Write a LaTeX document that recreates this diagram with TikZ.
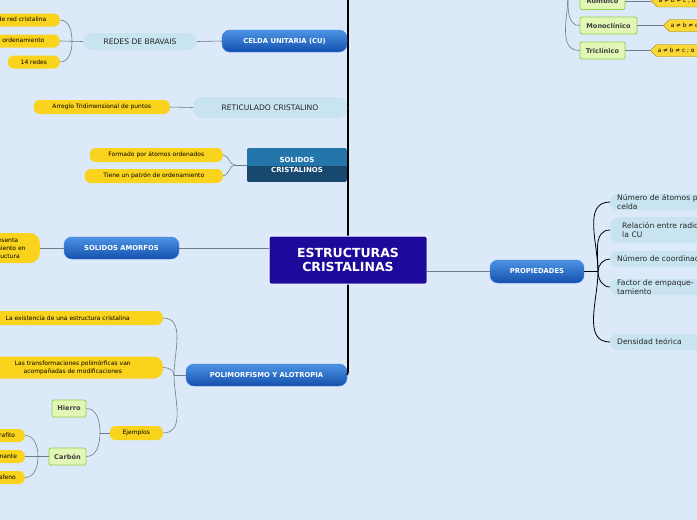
\documentclass[tikz,border=0pt]{standalone}
\usepackage{fontspec}
\setmainfont{DejaVu Sans}
\usetikzlibrary{shapes.geometric,shapes.symbols}
\definecolor{bg}{HTML}{DBE9F8}
\definecolor{yel}{HTML}{F9D31C}
\definecolor{lblue}{HTML}{C7E4F0}
\definecolor{grn}{HTML}{E2F6B5}
\definecolor{grnd}{HTML}{94D050}
\definecolor{btop}{HTML}{4D94E4}
\definecolor{bbot}{HTML}{1350AE}
\definecolor{cen}{HTML}{1E0A9A}
\definecolor{lnk}{HTML}{707C88}
\definecolor{sct}{HTML}{2476AA}
\definecolor{scb}{HTML}{19486E}
\tikzset{
 bluebtn/.style={rounded corners=8pt,top color=btop,bottom color=bbot,draw=btop!80!blue,text=white,font=\fontsize{6.8}{8}\selectfont\bfseries,inner sep=0pt},
 yelbox/.style={rounded corners=6pt,fill=yel,draw=none,font=\fontsize{6}{7.5}\selectfont,inner sep=0pt,minimum height=14pt,align=center},
 lbbox/.style={rounded corners=9pt,fill=lblue,draw=none,font=\fontsize{7.6}{9}\selectfont,inner sep=0pt,text=black!85},
 rbox/.style={lbbox,anchor=west,rounded corners=7pt,minimum height=16pt,text width=100pt,align=left,inner xsep=7pt},
 grnbox/.style={rounded corners=2pt,fill=grn,draw=grnd,line width=0.8pt,font=\fontsize{6.6}{8}\selectfont\bfseries,text=black!75,inner sep=0pt},
 hexbox/.style={shape=signal,signal to=west,fill=yel!90!white,draw=yel!60!black,font=\fontsize{5.8}{7}\selectfont,inner sep=1.5pt,minimum height=12pt,minimum width=70pt},
 lk/.style={draw=lnk,line width=0.6pt},
 bk/.style={draw=black,line width=1.6pt},
}
\begin{document}
\begin{tikzpicture}[x=1pt,y=-1pt]
\useasboundingbox (0,0) rectangle (697,520);
\fill[bg] (0,0) rectangle (697,520);
\clip (0,0) rectangle (697,520);
% main trunk
\coordinate (ttop) at (348,-5);
\coordinate (tbot) at (348,372);
\draw[bk] (ttop) -- (tbot);
% central
\node[fill=cen,draw=white,line width=1pt,rounded corners=1.5pt,minimum width=158pt,minimum height=48pt,text=white,font=\fontsize{12.5}{14}\selectfont\bfseries,align=center] (c) at (348,260) {ESTRUCTURAS\\CRISTALINAS};
% left branches
\node[bluebtn,minimum width=125pt,minimum height=22pt] (cu) at (284.5,41) {CELDA UNITARIA (CU)};
\node[lbbox,minimum width=114pt,minimum height=17pt] (rb) at (140,41.5) {REDES DE BRAVAIS};
\node[yelbox,minimum width=90pt,minimum height=13pt,anchor=east] (y1) at (60,20) {Tipo de red cristalina};
\node[yelbox,minimum width=100pt,minimum height=13pt,anchor=east] (y2) at (60,41) {Tipos de ordenamiento};
\node[yelbox,minimum width=52pt,minimum height=13pt,anchor=east] (y3) at (60,62) {14 redes};
\draw[lk] (cu.west) -- (rb.east);
\draw[lk] (rb.west) -- (y2.east);
\coordinate (rbj) at (72,41.5);
\draw[lk] (rbj) to[out=90,in=0] (y1.east);
\draw[lk] (rbj) to[out=-90,in=0] (y3.east);

\node[lbbox,minimum width=154pt,minimum height=21pt] (rc) at (270,107.5) {RETICULADO CRISTALINO};
\node[yelbox,minimum width=136pt,anchor=east] (ar) at (170,107) {Arreglo Tridimensional de puntos};
\draw[lk] (rc.west) -- (ar.east);

\node[minimum width=100pt,minimum height=34pt,inner sep=0pt] (sc) at (297,165) {};
\begin{scope}
\clip[rounded corners=2pt] (247,148) rectangle (347,182);
\fill[sct] (247,148) rectangle (347,166);
\fill[scb] (247,166) rectangle (347,182);
\end{scope}
\node[text=white,font=\fontsize{7}{9.5}\selectfont\bfseries,align=center] at (297,165) {SOLIDOS\\CRISTALINOS};
\node[yelbox,minimum width=133pt,anchor=east] (f1) at (223,155) {Formado por átomos ordenados};
\node[yelbox,minimum width=138pt,anchor=east] (f2) at (223,176) {Tiene un patrón de ordenamiento};
\coordinate (scj) at (235,165);
\draw[lk] (sc.west) -- (scj);
\draw[lk] (scj) to[out=180,in=0] (f1.east);
\draw[lk] (scj) to[out=180,in=0] (f2.east);

\node[bluebtn,minimum width=115pt,minimum height=22pt] (am) at (121.5,248) {SOLIDOS AMORFOS};
\node[yelbox,minimum width=80pt,minimum height=30pt,rounded corners=10pt,anchor=east,font=\fontsize{6}{8}\selectfont] (ya) at (40,248) {No presenta\\ordenamiento en\\su estructura};
\coordinate (cw) at (269,248);
\draw[lk] (cw) -- (am.east);
\draw[lk] (am.west) -- (ya.east);

\node[bluebtn,minimum width=161pt,minimum height=22pt] (po) at (266.5,375) {POLIMORFISMO Y ALOTROPIA};
\draw[bk] (tbot) -- (po.east);
\node[yelbox,minimum width=190pt,anchor=east] (p1) at (163,318) {La existencia de una estructura cristalina};
\node[yelbox,minimum width=180pt,minimum height=22pt,rounded corners=9pt,anchor=east] (p2) at (163,367.5) {Las transformaciones polimórficas van\\acompañadas de modificaciones};
\node[yelbox,minimum width=53pt,anchor=east] (ej) at (163,433) {Ejemplos};
\coordinate (poj) at (174,375);
\draw[lk] (po.west) -- (poj);
\draw[lk] (poj) to[out=90,in=0] (p1.east);
\draw[lk] (poj) to[out=90,in=0] (p2.east);
\draw[lk] (poj) to[out=-90,in=0] (ej.east);
\node[grnbox,minimum width=34pt,minimum height=17pt] (hi) at (69,408.5) {Hierro};
\node[grnbox,minimum width=37pt,minimum height=17pt] (ca) at (67.5,456.5) {Carbón};
\coordinate (ejj) at (100,433);
\draw[lk] (ej.west) -- (ejj);
\draw[lk] (ejj) to[out=90,in=0] (hi.east);
\draw[lk] (ejj) to[out=-90,in=0] (ca.east);
\node[yelbox,minimum width=40pt,minimum height=13pt,anchor=east] (g1) at (25,435.5) {Grafito};
\node[yelbox,minimum width=45pt,minimum height=13pt,anchor=east] (g2) at (25,456.5) {Diamante};
\node[yelbox,minimum width=42pt,minimum height=13pt,anchor=east] (g3) at (25,477.5) {Grafeno};
\coordinate (caj) at (38,456.5);
\draw[lk] (ca.west) -- (g2.east);
\draw[lk] (caj) to[out=90,in=0] (g1.east);
\draw[lk] (caj) to[out=-90,in=0] (g3.east);

% right
\node[bluebtn,minimum width=94pt,minimum height=23pt] (pr) at (537,271.5) {PROPIEDADES};
\coordinate (ce) at (427,271.5);
\draw[lk] (ce) -- (pr.west);
\coordinate (prj) at (598,271.5);
\draw[bk,line width=1pt] (pr.east) -- (prj);
\node[rbox] (r1) at (610,202) {Número de átomos por celda};
\node[rbox,minimum height=26pt,rounded corners=9pt] (r2) at (610,230) {\hspace*{5pt}Relación entre radio y\\\hspace*{5pt}la CU};
\node[rbox] (r3) at (610,259) {Número de coordinación};
\node[rbox] (r4) at (610,287) {Factor de empaquetamiento};
\node[rbox] (r5) at (610,342) {Densidad teórica};
\foreach \r in {r1,r2,r3}{\draw[black,line width=0.8pt] (prj) to[out=90,in=180] (\r.west);}
\draw[black,line width=0.8pt] (prj) to[out=-90,in=180] (r4.west);
\draw[black,line width=0.8pt] (prj) to[out=-90,in=180] (r5.west);

% top right
\coordinate (tr) at (568,-5);
\node[grnbox,minimum width=45pt,minimum height=17pt] (ro) at (602.5,1) {Rómbico};
\node[grnbox,minimum width=57pt,minimum height=17pt] (mo) at (608.5,25.5) {Monoclínico};
\node[grnbox,minimum width=45pt,minimum height=17pt] (tc) at (602.5,50.5) {Triclínico};
\draw[lk] (tr) to[out=-90,in=180] (mo.west);
\draw[lk] (tr) to[out=-90,in=180] (tc.west);
\node[hexbox,anchor=west,minimum width=80pt] (h1) at (651,1) {a ≠ b ≠ c ; α = β = γ = 90°};
\node[hexbox,anchor=west,minimum width=80pt] (h2) at (663,25.5) {a ≠ b ≠ c ; α = γ = 90° ≠ β};
\node[hexbox,anchor=west,minimum width=80pt] (h3) at (650,50.5) {a ≠ b ≠ c ; α ≠ β ≠ γ ≠ 90°};
\draw[lk] (ro.east) -- (h1.west);
\draw[lk] (mo.east) -- (h2.west);
\draw[lk] (tc.east) -- (h3.west);
\end{tikzpicture}
\end{document}
